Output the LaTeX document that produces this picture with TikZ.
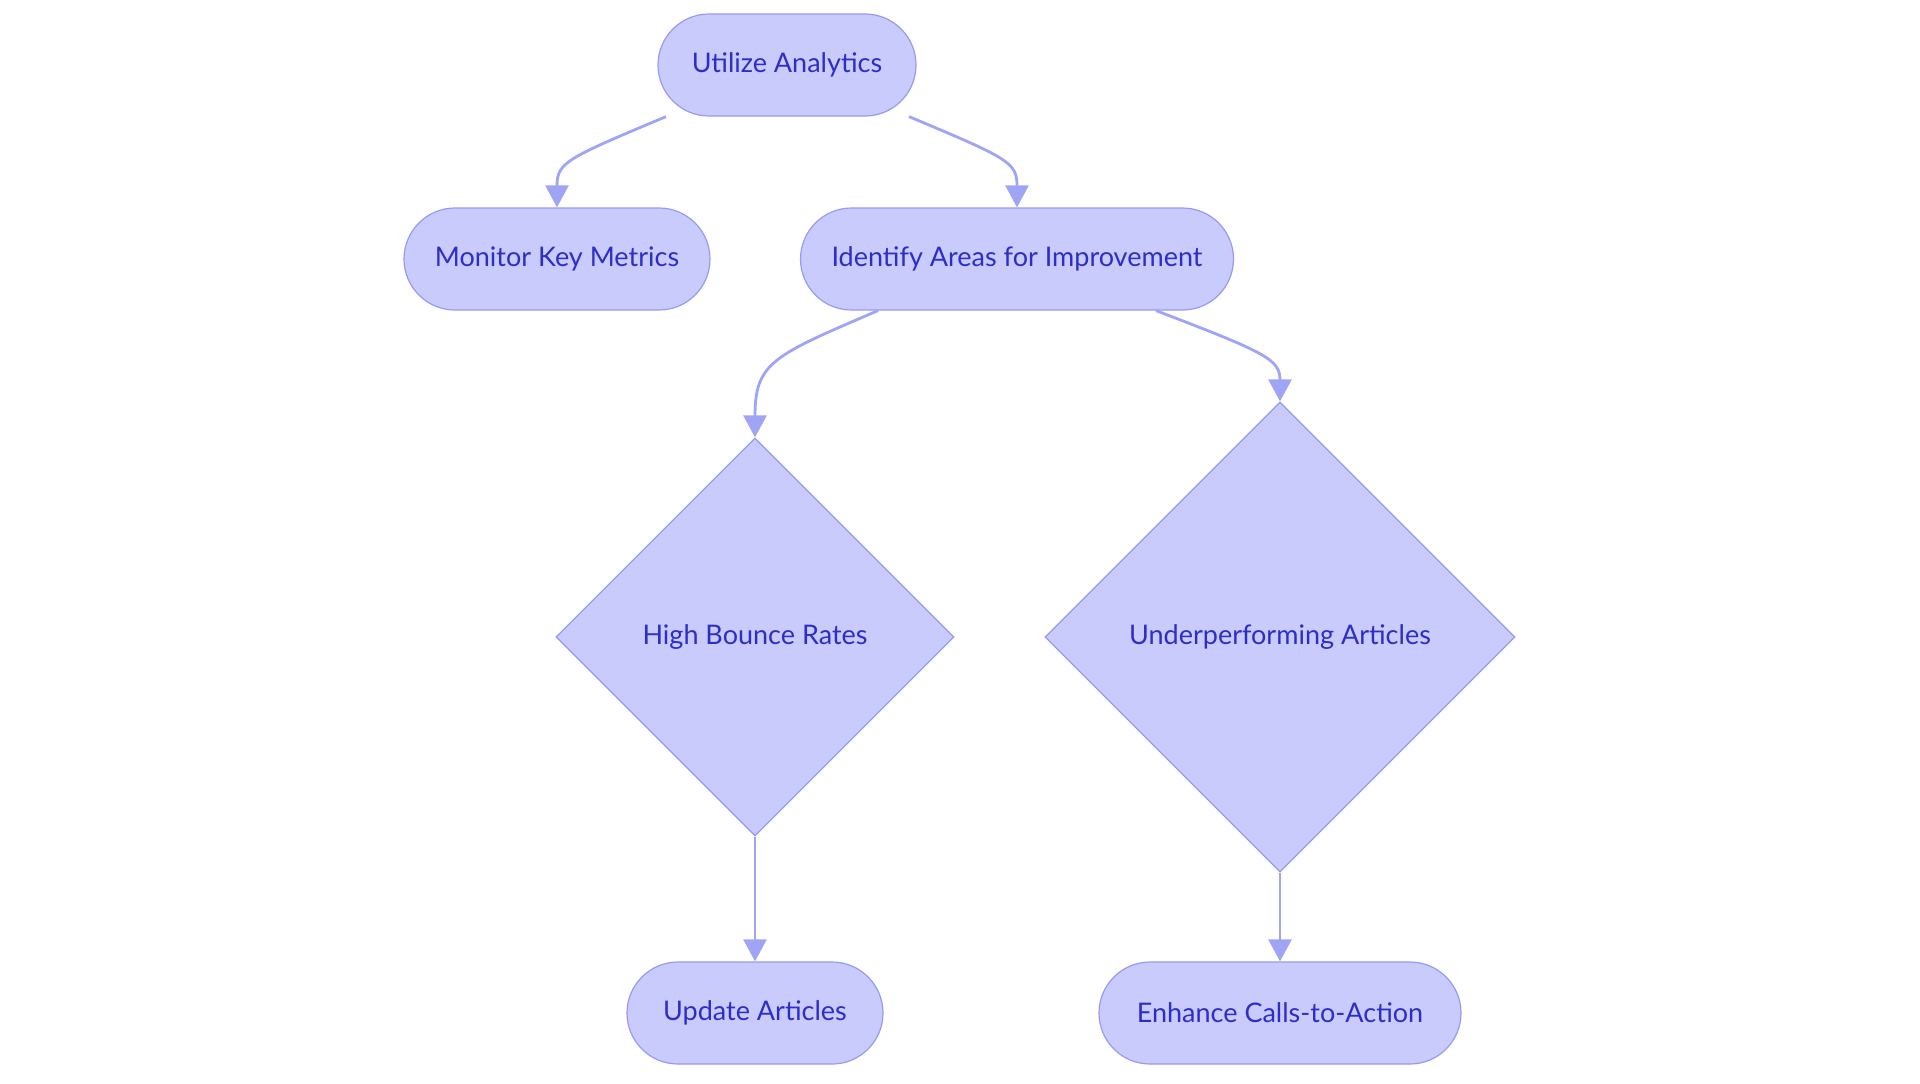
\documentclass[tikz,border=0pt]{standalone}
\usepackage{fontspec}
\setmainfont{Lato}
\usetikzlibrary{shapes, shapes.misc, shapes.geometric, arrows.meta, calc, positioning}
\definecolor{flowfill}{RGB}{201,203,253}
\definecolor{flowline}{RGB}{150,155,240}
\definecolor{flowedge}{RGB}{160,164,244}
\definecolor{flowtext}{RGB}{45,45,200}

\begin{document}
\begin{tikzpicture}[x=0.5pt, y=-0.5pt,
        every node/.style={font=\fontsize{13.5}{16}\selectfont, text=flowtext},
        pill/.style={draw=flowline, fill=flowfill, line width=0.6pt, rounded rectangle,
            minimum height=51pt, inner sep=2pt},
        decision/.style={draw=flowline, fill=flowfill, line width=0.6pt, diamond,
            aspect=1, inner sep=0pt},
        link/.style={draw=flowedge, line width=1.4pt, -{Triangle[length=11pt, width=11.5pt]}}]
        \useasboundingbox (0,0) rectangle (1920,1083);

        % top row
        \node[pill, minimum width=133pt] (util) at (787,65) {Utilize Analytics};
        \node[pill, minimum width=157pt] (mon) at (557,259) {Monitor Key Metrics};
        \node[pill, minimum width=220.5pt] (ident) at (1017,259) {Identify Areas for Improvement};

        % decisions
        \node[decision, minimum width=199pt, minimum height=199pt] (bounce) at (755,637) {High Bounce Rates};
        \node[decision, minimum width=235pt, minimum height=235pt] (under) at (1280,637) {Underperforming Articles};

        % actions
        \node[pill, minimum width=132pt] (upd) at (755,1013) {Update Articles};
        \node[pill, minimum width=185pt] (cta) at (1280,1013) {Enhance Calls-to-Action};

        \draw[link] ([xshift=-60.5pt]util.south) .. controls +(-100,42) and +(0,-45) .. (mon.north);
        \draw[link] ([xshift=61pt]util.south) .. controls +(100,42) and +(0,-45) .. (ident.north);
        \draw[link] ([xshift=-69.5pt]ident.south) .. controls +(-105,45) and +(0,-75) .. (bounce.north);
        \draw[link] ([xshift=69.5pt]ident.south) .. controls +(110,42) and +(0,-42) .. (under.north);
        \draw[link] (bounce.south) -- (upd.north);
        \draw[link] (under.south) -- (cta.north);
    \end{tikzpicture}
\end{document}
